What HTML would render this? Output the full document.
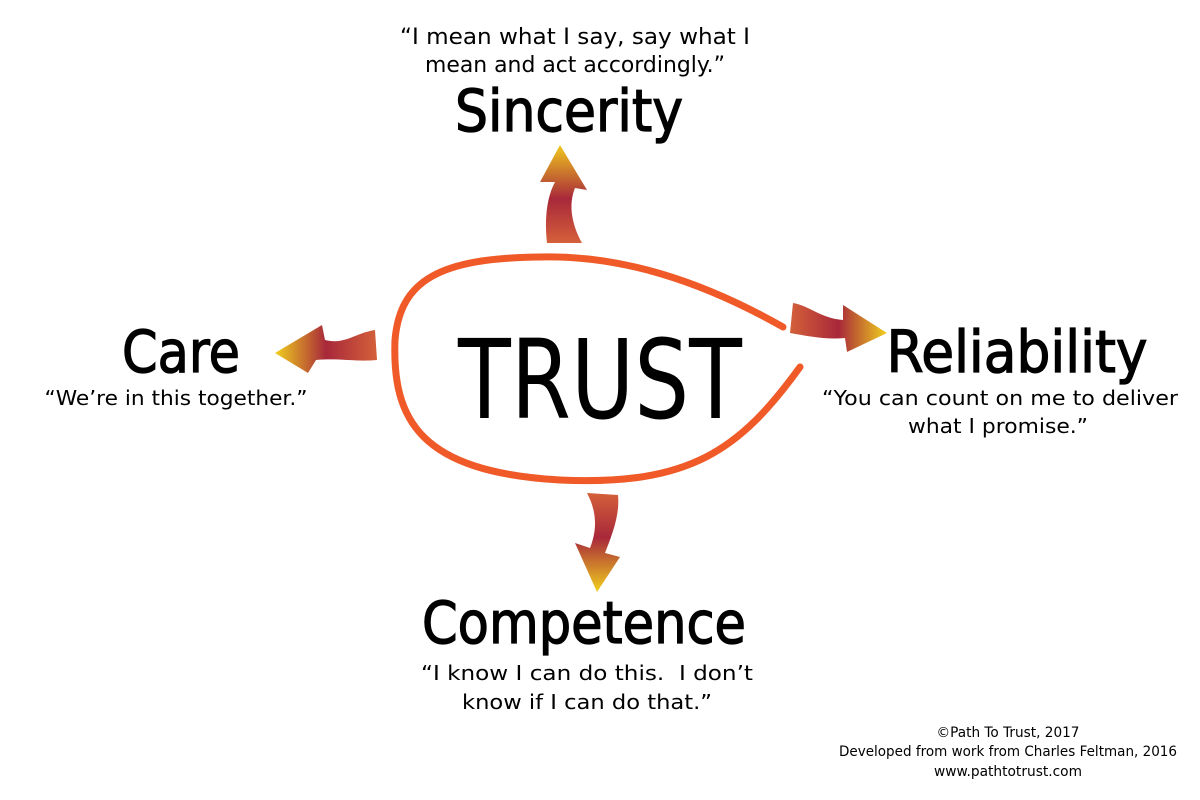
<!DOCTYPE html>
<html><head><meta charset="utf-8"><style>
html,body{margin:0;padding:0;background:#fff;}
svg{display:block;}
text{font-family:"DejaVu Sans","Liberation Sans",sans-serif;fill:#000;}
.t{stroke:#000;stroke-width:1.3;}
</style></head><body>
<svg width="1200" height="800" viewBox="0 0 1200 800" xmlns="http://www.w3.org/2000/svg">
<defs>
<linearGradient id="gu" x1="0" y1="1" x2="0" y2="0"><stop offset="0" stop-color="#d4603a"/><stop offset="0.45" stop-color="#a8283a"/><stop offset="1" stop-color="#f0c81e"/></linearGradient>
<linearGradient id="gd" x1="0" y1="0" x2="0" y2="1"><stop offset="0" stop-color="#d4603a"/><stop offset="0.45" stop-color="#a8283a"/><stop offset="1" stop-color="#f0d01e"/></linearGradient>
<linearGradient id="gr" x1="0" y1="0" x2="1" y2="0"><stop offset="0" stop-color="#d4603a"/><stop offset="0.5" stop-color="#a8283a"/><stop offset="1" stop-color="#f0d01e"/></linearGradient>
<linearGradient id="gl" x1="1" y1="0" x2="0" y2="0"><stop offset="0" stop-color="#d4603a"/><stop offset="0.5" stop-color="#a8283a"/><stop offset="1" stop-color="#f0d01e"/></linearGradient>
</defs>

<path d="M783,327 C700,280 620,255 540,257 C440,258 400,280 395,340 C392,420 420,472 560,480 C690,486 740,450 800,367" fill="none" stroke="#f05a28" stroke-width="7" stroke-linecap="round"/>

<path d="M547,243 C544,215 548,195 555,182 L540,182 L560,145 L587,190 L575,188 C568,205 572,225 582,243 Z" fill="url(#gu)"/>
<path d="M793,303 C810,306 820,318 843,320 L843,305 L887,333 L847,352 L845,338 C825,340 808,336 790,333 Z" fill="url(#gr)"/>
<path d="M587,493 C596,510 598,528 590,548 L575,543 L597,592 L620,557 L605,553 C612,535 620,515 618,495 Z" fill="url(#gd)"/>
<path d="M375,330 C355,333 345,345 325,340 L322,325 L275,353 L308,373 L316,360 C340,358 355,362 377,360 Z" fill="url(#gl)"/>

<text x="575" y="44" font-size="22" text-anchor="middle" textLength="350" lengthAdjust="spacingAndGlyphs">“I mean what I say, say what I</text>
<text x="575" y="72" font-size="22" text-anchor="middle" textLength="300" lengthAdjust="spacingAndGlyphs">mean and act accordingly.”</text>
<text class="t" x="569" y="131" font-size="58" text-anchor="middle" textLength="228" lengthAdjust="spacingAndGlyphs">Sincerity</text>

<text x="600" y="418" font-size="110" text-anchor="middle" textLength="284" lengthAdjust="spacingAndGlyphs">TRUST</text>

<text class="t" x="181" y="372" font-size="58" text-anchor="middle" textLength="118" lengthAdjust="spacingAndGlyphs">Care</text>
<text x="176" y="405" font-size="20" text-anchor="middle" textLength="263" lengthAdjust="spacingAndGlyphs">“We’re in this together.”</text>

<text class="t" x="1017" y="372" font-size="58" text-anchor="middle" textLength="261" lengthAdjust="spacingAndGlyphs">Reliability</text>
<text x="1000" y="405" font-size="20" text-anchor="middle" textLength="356" lengthAdjust="spacingAndGlyphs">“You can count on me to deliver</text>
<text x="998" y="433" font-size="20" text-anchor="middle" textLength="180" lengthAdjust="spacingAndGlyphs">what I promise.”</text>

<text class="t" x="584" y="643" font-size="58" text-anchor="middle" textLength="324" lengthAdjust="spacingAndGlyphs">Competence</text>
<text x="587" y="680" font-size="20" text-anchor="middle" textLength="332" lengthAdjust="spacingAndGlyphs" xml:space="preserve">“I know I can do this.  I don’t</text>
<text x="587" y="709" font-size="20" text-anchor="middle" textLength="250" lengthAdjust="spacingAndGlyphs">know if I can do that.”</text>

<text x="1008" y="737" font-size="14" text-anchor="middle" textLength="143" lengthAdjust="spacingAndGlyphs">©Path To Trust, 2017</text>
<text x="1008" y="756" font-size="14" text-anchor="middle" textLength="338" lengthAdjust="spacingAndGlyphs">Developed from work from Charles Feltman, 2016</text>
<text x="1008" y="776" font-size="14" text-anchor="middle" textLength="148" lengthAdjust="spacingAndGlyphs">www.pathtotrust.com</text>
</svg>
</body></html>
